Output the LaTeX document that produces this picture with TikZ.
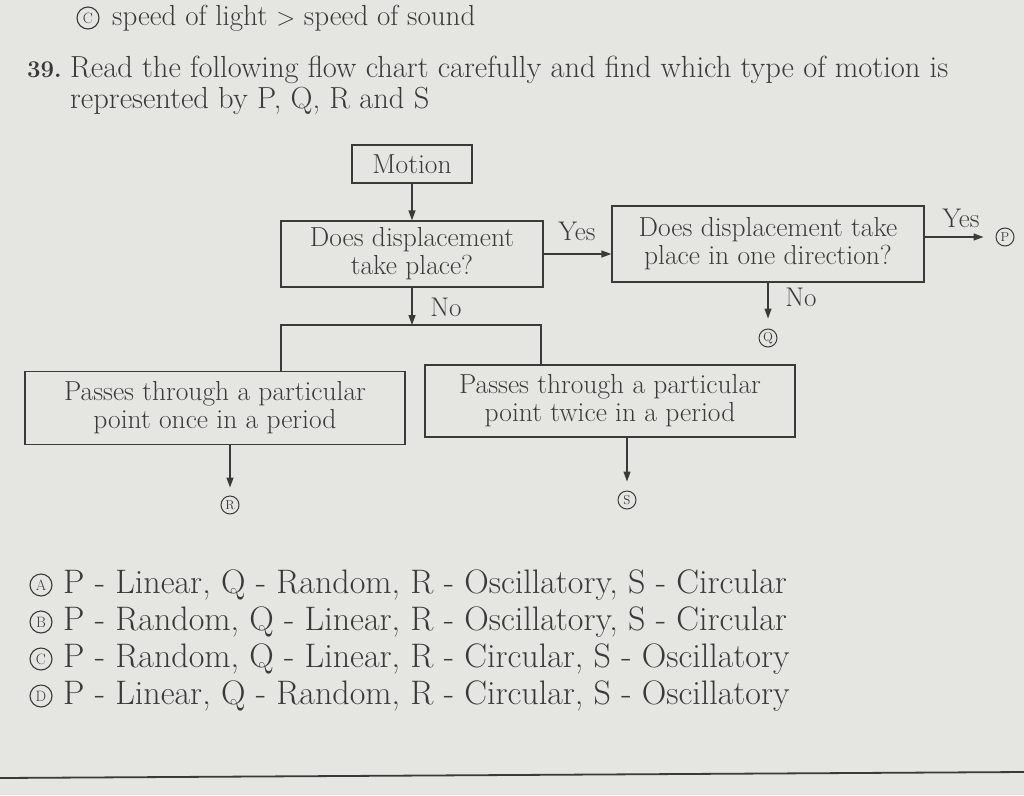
\documentclass[tikz,border=0pt]{standalone}
\usetikzlibrary{arrows.meta}
\definecolor{paper}{RGB}{229,229,226}
\definecolor{ink}{RGB}{58,58,58}
\tikzset{
  box/.style={draw=ink, line width=1.3pt, align=center, text=ink, inner sep=0pt,
    font=\fontsize{27.5}{28}\selectfont},
  conn/.style={draw=ink, line width=1.3pt},
  arr/.style={conn, -{Triangle[length=10pt,width=7pt]}},
  lbl/.style={text=ink, font=\fontsize{27}{28}\selectfont, inner sep=0pt},
  qtext/.style={text=ink, font=\fontsize{30.5}{31}\selectfont, inner sep=0pt, anchor=west},
  cmark/.style={circle, draw=ink, line width=1pt, inner sep=0pt, minimum size=18pt,
    text=ink, font=\fontsize{13}{14}\selectfont},
  omark/.style={circle, draw=ink, line width=1.1pt, inner sep=0pt, minimum size=22pt,
    text=ink, font=\fontsize{15}{16}\selectfont},
  otext/.style={text=ink, font=\fontsize{34}{36}\selectfont, inner sep=0pt, anchor=west},
}
\begin{document}
\begin{tikzpicture}[x=1pt,y=-1pt]
\fill[paper] (0,0) rectangle (1024,795);
\useasboundingbox (0,0) rectangle (1024,795);

% previous line (at the top edge)
\node[omark] (cmk) at (88,18) {C};
\node[qtext, font=\fontsize{29}{30}\selectfont] (prev) at (112,18) {speed of light $>$ speed of sound};

% question
\node[qtext, font=\bfseries\fontsize{24}{26}\selectfont] (qno) at (27,70) {39.};
\node[qtext] (q1l) at (70,70) {Read the following flow chart carefully and find which type of motion is};
\node[qtext] (q2l) at (70,101) {represented by P, Q, R and S};

% flow chart
\node[box, minimum width=120pt, minimum height=38pt] (motion) at (412,164) {Motion};
\node[box, minimum width=262pt, minimum height=66pt] (dq1) at (412,254) {Does displacement\\take place?};
\node[box, minimum width=312pt, minimum height=76pt] (dq2) at (768,244) {Does displacement take\\place in one direction?};
\node[box, minimum width=380pt, minimum height=73pt] (once) at (215,408) {Passes through a particular\\point once in a period};
\node[box, minimum width=370pt, minimum height=72pt] (twice) at (610,401) {Passes through a particular\\point twice in a period};

\node[cmark] (P) at (1005,237) {P};
\node[cmark] (Q) at (768,338) {Q};
\node[cmark] (R) at (230,505) {R};
\node[cmark] (S) at (627,500) {S};

\coordinate (jL) at (281,325);
\coordinate (jR) at (541,325);

\draw[arr] (motion) -- (dq1);
\draw[arr] (dq1.east) -- (dq1.east -| dq2.west);
\draw[arr] (dq2.east |- P) -- ([xshift=-12pt]P.west);
\draw[arr] (dq2.south) -- ([yshift=10pt]Q.north);
\draw[arr] (dq1.south) -- (dq1.south |- jL);
\draw[conn] (jL |- once.north) -- (jL) -- (jR) -- (jR |- twice.north);
\draw[arr] (once.south -| R) -- ([yshift=8pt]R.north);
\draw[arr] (twice.south -| S) -- ([yshift=9pt]S.north);

\node[lbl] (yes1) at (577,231) {Yes};
\node[lbl] (yes2) at (961,218) {Yes};
\node[lbl] (no1) at (446,307) {No};
\node[lbl] (no2) at (801,297) {No};

% options
\node[omark] (oA) at (41,585) {A};
\node[otext] (tA) at (63,585) {P - Linear, Q - Random, R - Oscillatory, S - Circular};
\node[omark] (oB) at (41,622) {B};
\node[otext] (tB) at (63,622) {P - Random, Q - Linear, R - Oscillatory, S - Circular};
\node[omark] (oC) at (41,659) {C};
\node[otext] (tC) at (63,659) {P - Random, Q - Linear, R - Circular, S - Oscillatory};
\node[omark] (oD) at (41,696) {D};
\node[otext] (tD) at (63,696) {P - Linear, Q - Random, R - Circular, S - Oscillatory};

\coordinate (bl) at (0,778);
\coordinate (br) at (1024,772);
\draw[draw=ink, line width=1.8pt] (bl) -- (br);
\end{tikzpicture}
\end{document}
